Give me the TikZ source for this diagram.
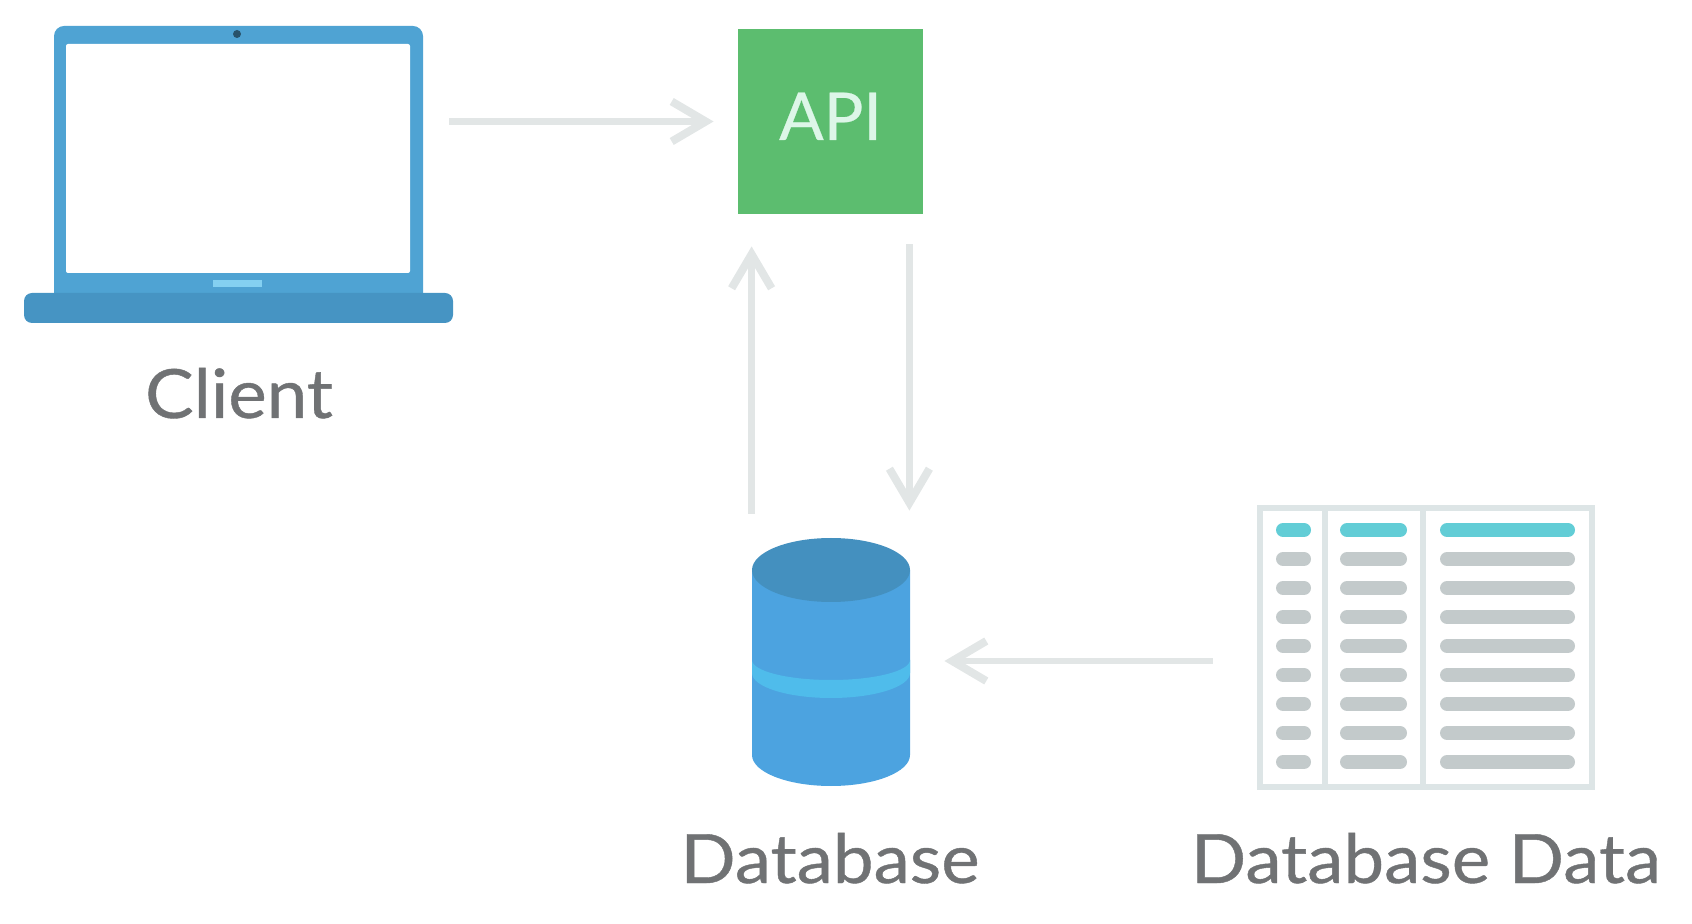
\documentclass[tikz,border=0pt]{standalone}
\usepackage{fontspec}
\setmainfont{Lato}
\newfontfamily\labelfont[FakeStretch=1.07,FakeBold=0.6]{Lato}
\newfontfamily\apifont[FakeBold=0.4]{Lato}
\usetikzlibrary{arrows.meta}

\definecolor{lidblue}{HTML}{4FA3D3}
\definecolor{baseblue}{HTML}{4694C3}
\definecolor{barblue}{HTML}{4FBCEB}
\definecolor{dbblue}{HTML}{4CA3E0}
\definecolor{dbtop}{HTML}{4490BF}
\definecolor{apigreen}{HTML}{5CBD6F}
\definecolor{apitext}{HTML}{DDF6E8}
\definecolor{flowgrey}{HTML}{E2E6E6}
\definecolor{framegrey}{HTML}{DDE5E6}
\definecolor{rowgrey}{HTML}{C3CACB}
\definecolor{rowteal}{HTML}{62CDD6}
\definecolor{labelgrey}{HTML}{707274}

\tikzset{
	flow/.style={draw=flowgrey,line width=3.4pt,-{Straight Barb[length=17pt,width=20pt,line width=4pt]}},
	label/.style={text=labelgrey,anchor=base,inner sep=0pt,font=\labelfont\fontsize{34}{40}\selectfont},
	iconbox/.style={inner sep=0pt,minimum width=#1*0.5pt}
}

\begin{document}
\begin{tikzpicture}[x=0.5pt,y=-0.5pt]

\useasboundingbox (0,0) rectangle (1692,924);

% laptop
\fill[lidblue,rounded corners=5pt] (54,323)--(54,26)--(423,26)--(423,323)--cycle;
\fill[white,rounded corners=1pt] (66,44) rectangle (410,273);
\fill[barblue!70!white] (213,280) rectangle (262,287);
\fill[black!50!lidblue] (237,34) circle (4);
\fill[baseblue,rounded corners=4pt] (24,293) rectangle (453,323);
\node[iconbox=369,minimum height=148.5pt] (client) at (238.5,174.5) {};
\node[label] (clientlabel) at (239,418) {Client};

% api
\node[fill=apigreen,minimum width=92.5pt,minimum height=92.5pt,inner sep=0pt] (api) at (830.5,121.5) {};
\node[text=apitext,inner sep=0pt,anchor=base,font=\apifont\fontsize{33}{40}\selectfont] (apilabel) at (830.5,140) {API};

% database
\fill[dbblue] (752,570)--(752,755) arc[start angle=180,end angle=0,x radius=79,y radius=31]--(910,570)--cycle;
\fill[barblue] (752,660) arc[start angle=180,end angle=0,x radius=79,y radius=20]--(910,673) arc[start angle=0,end angle=180,x radius=79,y radius=25]--cycle;
\fill[dbtop] (831,570) ellipse [x radius=79,y radius=32];
\node[iconbox=157,minimum height=124pt] (db) at (830.5,661) {};
\node[label] (dblabel) at (830,883) {Database};

% table
\draw[framegrey,line width=2.6pt] (1260,508) rectangle (1592,787);
\draw[framegrey,line width=2.6pt] (1325,508)--(1325,787);
\draw[framegrey,line width=2.6pt] (1423,508)--(1423,787);
\foreach \r in {0,...,8}{
	\pgfmathsetmacro{\rowy}{530+29*\r}
	\ifnum\r=0 \def\rowcol{rowteal}\else \def\rowcol{rowgrey}\fi
	\draw[\rowcol,line width=7pt,line cap=round] (1283,\rowy)--(1304,\rowy);
	\draw[\rowcol,line width=7pt,line cap=round] (1347,\rowy)--(1400,\rowy);
	\draw[\rowcol,line width=7pt,line cap=round] (1447,\rowy)--(1568,\rowy);
}
\node[iconbox=332,minimum height=139.5pt] (table) at (1426,647.5) {};
\node[label] (tablelabel) at (1426,883) {Database Data};

% flows
\draw[flow,shorten <=13pt,shorten >=12pt] (client.east |- api.west)--(api.west);
\draw[flow,shorten <=11.5pt,shorten >=16pt] (db.north west)--(db.north west |- api.south);
\draw[flow,shorten <=15pt,shorten >=13pt] (db.north east |- api.south)--(db.north east);
\draw[flow,shorten <=23.5pt,shorten >=17.5pt] (table.west |- db.east)--(db.east);

\end{tikzpicture}
\end{document}
